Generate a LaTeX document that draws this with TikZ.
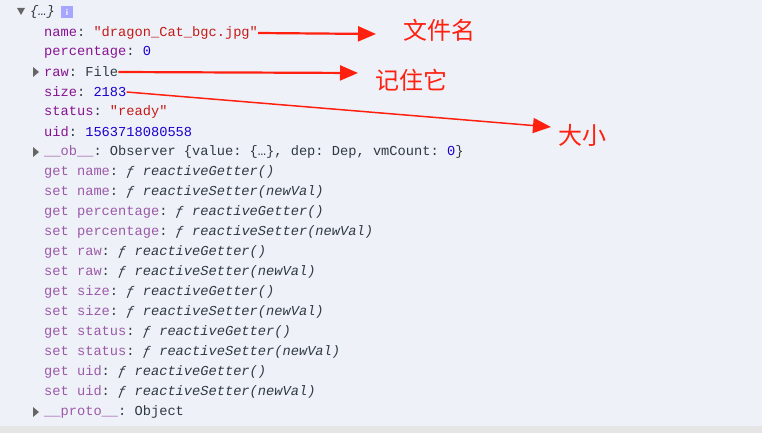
\documentclass[tikz,border=0pt]{standalone}
\usepackage{fontspec}
\setmonofont{Liberation Mono}
\newfontfamily\cjk{Noto Sans CJK SC}
\usetikzlibrary{arrows.meta}
\definecolor{bg}{HTML}{EEF2F8}
\definecolor{kp}{HTML}{881391}
\definecolor{kl}{HTML}{9B59A8}
\definecolor{sr}{HTML}{C41A16}
\definecolor{nb}{HTML}{1C00CF}
\definecolor{dk}{HTML}{303942}
\definecolor{ar}{HTML}{FF2010}
\tikzset{
 ln/.style={anchor=west,inner sep=0pt,font=\ttfamily\fontsize{13.7}{15}\selectfont,text=dk},
 tri/.style={fill=gray!80!black},
 redarrow/.style={draw=ar,line width=2.2pt,-{Triangle[length=18pt,width=15pt]}},
 cn/.style={anchor=west,inner sep=0pt,text=ar,font=\cjk\fontsize{24}{26}\selectfont}
}
\newcommand{\mK}[1]{\textcolor{kp}{#1}}
\newcommand{\mL}[1]{\textcolor{kl}{#1}}
\newcommand{\mF}[1]{\textit{ƒ #1}}
\begin{document}
\begin{tikzpicture}[x=1pt,y=-1pt]
\fill[bg] (0,0) rectangle (762,433);
\useasboundingbox (0,0) rectangle (762,433);
\fill[tri] (17,8) -- (25,8) -- (21,15) -- cycle;
\node[ln] (top) at (30,12) {\textit{\{…\}}};
\fill[blue!35] (61,6) rectangle (73,18);
\node[text=white,font=\sffamily\bfseries\fontsize{9}{9}\selectfont,inner sep=0pt] (info) at (67,12) {i};
\node[ln] (n1) at (44,33) {\mK{name}: \textcolor{sr}{"dragon\_Cat\_bgc.jpg"}};
\node[ln] (n2) at (44,52) {\mK{percentage}: \textcolor{nb}{0}};
\fill[tri] (33,67) -- (33,77) -- (39,72) -- cycle;
\node[ln] (n3) at (44,72) {\mK{raw}: File};
\node[ln] (n4) at (44,92) {\mK{size}: \textcolor{nb}{2183}};
\node[ln] (n5) at (44,112) {\mK{status}: \textcolor{sr}{"ready"}};
\node[ln] (n6) at (44,132) {\mK{uid}: \textcolor{nb}{1563718080558}};
\fill[tri] (33,147) -- (33,157) -- (39,152) -- cycle;
\node[ln] (n7) at (44,152) {\mL{\_\_ob\_\_}: Observer \{value: \{…\}, dep: Dep, vmCount: \textcolor{nb}{0}\}};
\foreach \k [count=\i] in {name,percentage,raw,size,status,uid}{
  \node[ln] (g\i) at (44,132+40*\i) {\mL{get \k}: \mF{reactiveGetter()}};
  \node[ln] (s\i) at (44,152+40*\i) {\mL{set \k}: \mF{reactiveSetter(newVal)}};
}
\fill[tri] (33,407) -- (33,417) -- (39,412) -- cycle;
\node[ln] (pr) at (44,412) {\mL{\_\_proto\_\_}: Object};
\node[cn] (c1) at (403,30) {文件名};
\node[cn] (c2) at (375,80) {记住它};
\node[cn] (c3) at (558,135) {大小};
\coordinate (e1) at (376,34);
\coordinate (e2) at (358,73);
\coordinate (e3) at (551,127);
\draw[redarrow] (n1.east) -- (e1);
\draw[redarrow] (n3.east) -- (e2);
\draw[redarrow,line width=1.5pt] (n4.east) -- (e3);
\fill[gray!20] (0,426) rectangle (762,433);
\end{tikzpicture}
\end{document}
